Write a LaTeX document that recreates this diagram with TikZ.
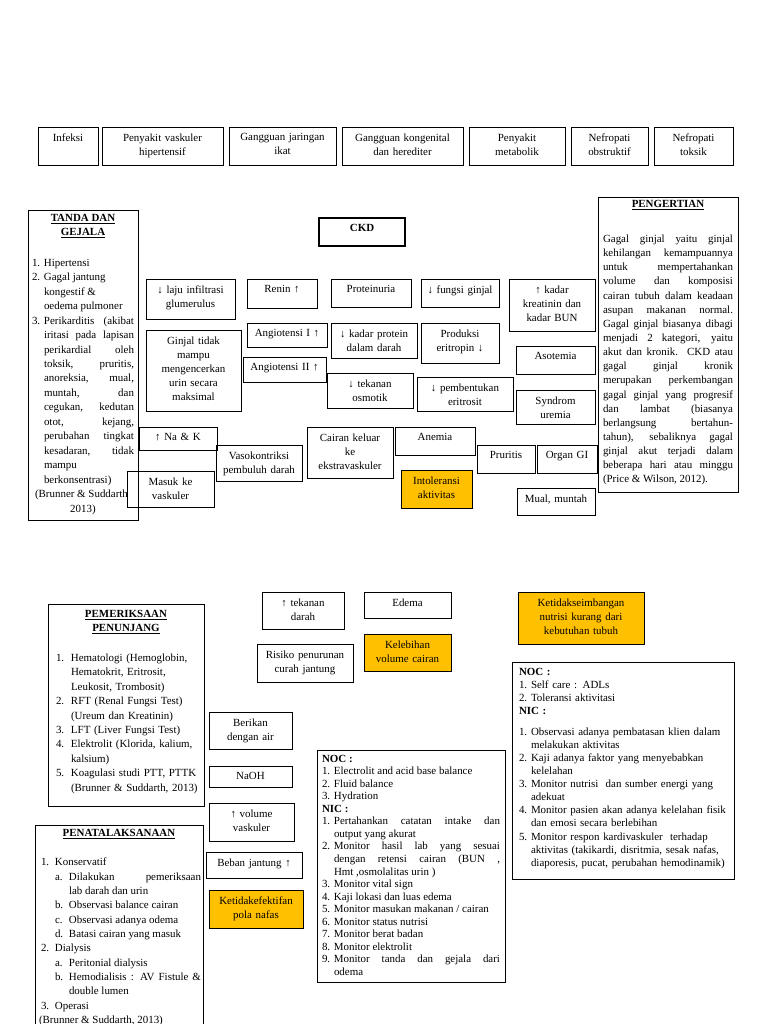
\documentclass[tikz,border=0pt]{standalone}
\usepackage{fontspec}
\setmainfont{Liberation Serif}
\definecolor{hlor}{HTML}{FFC000}
\newlength\lind
\newcommand\li[2]{\hangindent=\lind\hangafter=1\noindent\makebox[\lind][l]{#1}#2\par}
\newcommand\lii[2]{\hangindent=2\lind\hangafter=1\noindent\hspace*{\lind}\makebox[\lind][l]{#1}#2\par}
\newcommand\fs{\fontsize{8.2}{10.5}\selectfont}
\tikzset{
  box/.style={draw=black,line width=0.6pt,inner sep=0pt,outer sep=0pt},
  hl/.style={fill=hlor},
  txt/.style={inner sep=0pt,outer sep=0pt,font=\fs,align=center},
  body/.style={inner sep=0pt,outer sep=0pt,font=\fs,anchor=north west},
}
\newcommand\cbx[7][]{%
  \pgfmathsetmacro\bxw{#5*0.75}%
  \pgfmathsetmacro\bxh{#6*0.75}%
  \pgfmathsetmacro\bxt{(#5-4)*0.75}%
  \node[box,#1,minimum width=\bxw pt,minimum height=\bxh pt,anchor=north west] (#2) at (#3,#4) {};
  \node[txt,text width=\bxt pt,anchor=north] (#2t) at ([yshift=-5pt]#2.north) {#7};
}
\begin{document}
\begin{tikzpicture}[x=0.75pt,y=-0.75pt]
\useasboundingbox (0,0) rectangle (768,1024);
\clip (0,0) rectangle (768,1024);
\fill[white] (0,0) rectangle (768,1024);

% top row of causes
\cbx{i1}{38}{127}{60}{38}{Infeksi}
\cbx{i2}{102}{127}{121}{38}{Penyakit vaskuler\\hipertensif}
\cbx{i3}{229}{127}{107}{38}{Gangguan jaringan\\ikat}
\cbx{i4}{342}{127}{121}{38}{Gangguan kongenital\\dan herediter}
\cbx{i5}{469}{127}{96}{38}{Penyakit\\metabolik}
\cbx{i6}{571}{127}{77}{38}{Nefropati\\obstruktif}
\cbx{i7}{654}{127}{79}{38}{Nefropati\\toksik}

% CKD
\cbx[line width=1.5pt]{ckd}{319}{218}{86}{28}{\textbf{CKD}}

% middle pathway
\cbx{m1}{146}{279}{89}{40}{↓ laju infiltrasi\\glumerulus}
\cbx{m2}{247}{279}{70}{29}{Renin ↑}
\cbx{m3}{331}{279}{80}{28}{Proteinuria}
\cbx{m4}{421}{279}{78}{28}{↓ fungsi ginjal}
\cbx{m5}{509}{279}{86}{52}{↑ kadar\\kreatinin dan\\kadar BUN}
\cbx{m6}{247}{323}{80}{24}{Angiotensi I ↑}
\cbx{m7}{331}{323}{86}{35}{↓ kadar protein\\dalam darah}
\cbx{m8}{421}{323}{78}{40}{Produksi\\eritropin ↓}
\cbx{m9}{146}{330}{95}{81}{Ginjal tidak\\mampu\\mengencerkan\\urin secara\\maksimal}
\cbx{m10}{243}{357}{83}{25}{Angiotensi II ↑}
\cbx{m11}{516}{346}{79}{28}{Asotemia}
\cbx{m12}{327}{373}{86}{35}{↓ tekanan\\osmotik}
\cbx{m13}{417}{377}{96}{34}{↓ pembentukan\\eritrosit}
\cbx{m14}{516}{390}{79}{34}{Syndrom\\uremia}
\cbx{m15}{139}{427}{78}{23}{↑ Na \& K}
\cbx{m16}{216}{445}{86}{36}{Vasokontriksi\\pembuluh darah}
\cbx{m17}{127}{471}{87}{36}{Masuk ke\\vaskuler}
\cbx{m18}{307}{427}{86}{51}{Cairan keluar\\ke\\ekstravaskuler}
\cbx{m19}{395}{427}{80}{28}{Anemia}
\cbx{m20}{477}{445}{58}{28}{Pruritis}
\cbx{m21}{537}{445}{60}{28}{Organ GI}
\cbx[hl]{m22}{401}{470}{71}{38}{Intoleransi\\aktivitas}
\cbx{m23}{517}{488}{78}{27}{Mual, muntah}

% lower pathway
\cbx{l1}{262}{592}{82}{37}{↑ tekanan\\darah}
\cbx{l2}{364}{592}{87}{26}{Edema}
\cbx[hl]{l3}{364}{634}{87}{37}{Kelebihan\\volume cairan}
\cbx{l4}{257}{644}{96}{38}{Risiko penurunan\\curah jantung}
\cbx{l5}{209}{712}{83}{37}{Berikan\\dengan air}
\cbx{l6}{209}{766}{83}{21}{NaOH}
\cbx{l7}{209}{803}{85}{38}{↑ volume\\vaskuler}
\cbx{l8}{206}{852}{96}{26}{Beban jantung ↑}
\cbx[hl]{l9}{209}{890}{94}{38}{Ketidakefektifan\\pola nafas}
\cbx[hl]{l10}{518}{592}{126}{52}{Ketidakseimbangan\\nutrisi kurang dari\\kebutuhan tubuh}

% TANDA DAN GEJALA
\node[box,minimum width=82.5pt,minimum height=232.5pt,anchor=north west] (tg) at (28,210) {};
\node[txt] (tgh) at (83,226) {\underline{\textbf{TANDA DAN}}\\\underline{\textbf{GEJALA}}};
\node[body,text width=76.5pt,align=justify,font=\fontsize{8.2}{10.85}\selectfont] (tgb) at (32,259) {\setlength\lind{9pt}%
\li{1.}{Hipertensi}%
\li{2.}{Gagal jantung\newline kongestif \&\newline oedema pulmoner}%
\li{3.}{Perikarditis (akibat\linebreak iritasi pada lapisan\linebreak perikardial oleh\linebreak toksik, pruritis,\linebreak anoreksia, mual,\linebreak muntah, dan\linebreak cegukan, kedutan\linebreak otot, kejang,\linebreak perubahan tingkat\linebreak kesadaran, tidak\linebreak mampu\newline berkonsentrasi)}%
\centering (Brunner \& Suddarth\newline 2013)\par};

% PENGERTIAN
\node[box,minimum width=105pt,minimum height=221.25pt,anchor=north west] (pg) at (598,197) {};
\node[txt] (pgh) at (668,205) {\underline{\textbf{PENGERTIAN}}};
\node[body,text width=97.5pt,align=justify,font=\fontsize{8.2}{10.6}\selectfont] (pgb) at (603,235) {Gagal ginjal yaitu ginjal\linebreak kehilangan kemampuannya\linebreak untuk mempertahankan\linebreak volume dan komposisi\linebreak cairan tubuh dalam keadaan\linebreak asupan makanan normal.\linebreak Gagal ginjal biasanya dibagi\linebreak menjadi 2 kategori, yaitu\linebreak akut dan kronik. CKD atau\linebreak gagal ginjal kronik\linebreak merupakan perkembangan\linebreak gagal ginjal yang progresif\linebreak dan lambat (biasanya\linebreak berlangsung bertahun-\linebreak tahun), sebaliknya gagal\linebreak ginjal akut terjadi dalam\linebreak beberapa hari atau minggu\linebreak (Price \& Wilson, 2012).};

% PEMERIKSAAN PENUNJANG
\node[box,minimum width=117pt,minimum height=151.5pt,anchor=north west] (pp) at (48,604) {};
\node[txt] (pph) at (126,622) {\underline{\textbf{PEMERIKSAAN}}\\\underline{\textbf{PENUNJANG}}};
\node[body,text width=109pt,align=left,font=\fontsize{8.2}{10.8}\selectfont] (ppb) at (56,654) {\setlength\lind{11.25pt}%
\li{1.}{Hematologi (Hemoglobin,\newline Hematokrit, Eritrosit,\newline Leukosit, Trombosit)}%
\li{2.}{RFT (Renal Fungsi Test)\newline (Ureum dan Kreatinin)}%
\li{3.}{LFT (Liver Fungsi Test)}%
\li{4.}{Elektrolit (Klorida, kalium,\newline kalsium)}%
\li{5.}{Koagulasi studi PTT, PTTK\newline (Brunner \& Suddarth, 2013)}};

% PENATALAKSANAAN
\node[box,minimum width=126pt,minimum height=157.5pt,anchor=north west] (pt) at (35,825) {};
\node[txt] (pth) at (119,834) {\underline{\textbf{PENATALAKSANAAN}}};
\node[body,text width=120pt,align=justify,font=\fontsize{8.2}{10.75}\selectfont] (ptb) at (41,858) {\setlength\lind{10.5pt}%
\li{1.}{Konservatif}%
\lii{a.}{Dilakukan pemeriksaan\linebreak lab darah dan urin}%
\lii{b.}{Observasi balance cairan}%
\lii{c.}{Observasi adanya odema}%
\lii{d.}{Batasi cairan yang masuk}%
\li{2.}{Dialysis}%
\lii{a.}{Peritonial dialysis}%
\lii{b.}{Hemodialisis : AV Fistule \&\linebreak double lumen}%
\li{3.}{Operasi}%
\noindent\hspace*{-1.5pt}(Brunner \& Suddarth, 2013)\par};

% NOC / NIC (middle)
\node[box,minimum width=141pt,minimum height=174pt,anchor=north west] (nm) at (317,750) {};
\node[body,text width=133.5pt,align=justify,font=\fontsize{8.2}{9.4}\selectfont] (nmb) at (322,755) {\setlength\lind{9pt}%
\noindent\textbf{NOC :}\par
\li{1.}{Electrolit and acid base balance}%
\li{2.}{Fluid balance}%
\li{3.}{Hydration}%
\noindent\textbf{NIC :}\par
\li{1.}{Pertahankan catatan intake dan\linebreak output yang akurat}%
\li{2.}{Monitor hasil lab yang sesuai\linebreak dengan retensi cairan (BUN ,\linebreak Hmt ,osmolalitas urin )}%
\li{3.}{Monitor vital sign}%
\li{4.}{Kaji lokasi dan luas edema}%
\li{5.}{Monitor masukan makanan / cairan}%
\li{6.}{Monitor status nutrisi}%
\li{7.}{Monitor berat badan}%
\li{8.}{Monitor elektrolit}%
\li{9.}{Monitor tanda dan gejala dari\linebreak odema}};

% NOC / NIC (right)
\node[box,minimum width=166.5pt,minimum height=162.75pt,anchor=north west] (nr) at (512,662) {};
\node[body,text width=158pt,align=left,font=\fontsize{8.2}{9.8}\selectfont] (nrb) at (519,668) {\setlength\lind{9pt}%
\noindent\textbf{NOC :}\par
\li{1.}{Self care : ADLs}%
\li{2.}{Toleransi aktivitasi}%
\noindent\textbf{NIC :}\par\vspace{6pt}%
\li{1.}{Observasi adanya pembatasan klien dalam\newline melakukan aktivitas}%
\li{2.}{Kaji adanya faktor yang menyebabkan\newline kelelahan}%
\li{3.}{Monitor nutrisi\ \ dan sumber energi yang\newline adekuat}%
\li{4.}{Monitor pasien akan adanya kelelahan fisik\newline dan emosi secara berlebihan}%
\li{5.}{Monitor respon kardivaskuler\ \ terhadap\newline aktivitas (takikardi, disritmia, sesak nafas,\newline diaporesis, pucat, perubahan hemodinamik)}};
\end{tikzpicture}
\end{document}
